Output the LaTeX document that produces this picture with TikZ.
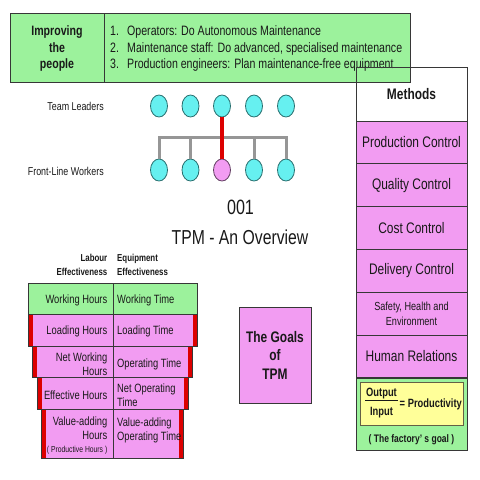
\documentclass[tikz,border=0pt]{standalone}
\usepackage{fontspec}
\setmainfont[FakeStretch=0.78]{Liberation Sans}
\usetikzlibrary{shapes.geometric}
\definecolor{tgreen}{RGB}{156,242,156}
\definecolor{tpink}{RGB}{242,156,242}
\definecolor{tcyan}{RGB}{102,240,240}
\definecolor{tyellow}{RGB}{255,255,153}
\definecolor{tred}{RGB}{220,0,0}
\definecolor{edge}{RGB}{55,55,55}
\definecolor{ink}{RGB}{25,25,25}
\definecolor{ringc}{RGB}{40,110,110}
\definecolor{barc}{RGB}{150,150,150}
\newcommand\fsz[2]{\fontsize{#1}{#2}\selectfont}
\begin{document}
\begin{tikzpicture}[x=1pt,y=-1pt,
  cell/.style={draw=edge, line width=0.9pt, anchor=north west, inner sep=0pt, outer sep=0pt},
  txt/.style={inner sep=0pt, text=ink},
  person/.style={ellipse, draw=ringc, line width=0.8pt, fill=tcyan, minimum width=17pt, minimum height=22pt, inner sep=0pt},
  barline/.style={draw=barc, line width=3pt},
  redline/.style={draw=tred, line width=3.2pt},
  methtxt/.style={txt, font=\fsz{15.3}{17}},
  funtxt/.style={txt, font=\fsz{12}{14}},
  redstrip/.style={fill=tred},
]
\useasboundingbox (0,0) rectangle (480,480);

% ---- Top box
\node[cell, fill=tgreen, minimum width=94pt, minimum height=69pt] (imp) at (10,13) {};
\node[cell, fill=tgreen, minimum width=306pt, minimum height=69pt] (list) at (104,13) {};
\node[txt, font=\bfseries\fsz{13.6}{16.5}, align=center] (impt) at (57,48.5) {Improving\\the\\people};
\node[txt, font=\fsz{13.6}{16.5}, align=left, anchor=west] (listt) at (110,48.5)
 {\makebox[17pt][l]{1.}Operators: Do Autonomous Maintenance\\
  \makebox[17pt][l]{2.}Maintenance staff: Do advanced, specialised maintenance\\
  \makebox[17pt][l]{3.}Production engineers: Plan maintenance-free equipment};

% ---- Methods column
\node[cell, minimum width=111pt, minimum height=54pt] (mh) at (356,67) {};
\node[txt, font=\bfseries\fsz{15.3}{17}] (mht) at (mh.center) {Methods};
\node[cell, fill=tpink, minimum width=111pt, minimum height=42.8pt] (m1) at (356,121) {};
\node[cell, fill=tpink, minimum width=111pt, minimum height=42.8pt] (m2) at (356,163.8) {};
\node[cell, fill=tpink, minimum width=111pt, minimum height=42.8pt] (m3) at (356,206.6) {};
\node[cell, fill=tpink, minimum width=111pt, minimum height=42.8pt] (m4) at (356,249.4) {};
\node[cell, fill=tpink, minimum width=111pt, minimum height=42.8pt] (m5) at (356,292.2) {};
\node[cell, fill=tpink, minimum width=111pt, minimum height=42.8pt] (m6) at (356,335) {};
\node[cell, fill=tgreen, minimum width=111pt, minimum height=72pt] (m7) at (356,378) {};
\node[methtxt] (m1t) at (m1.center) {Production Control};
\node[methtxt] (m2t) at (m2.center) {Quality Control};
\node[methtxt] (m3t) at (m3.center) {Cost Control};
\node[methtxt] (m4t) at (m4.center) {Delivery Control};
\node[txt, font=\fsz{11.7}{15.5}, align=center] (m5t) at (m5.center) {Safety, Health and\\Environment};
\node[methtxt] (m6t) at (m6.center) {Human Relations};
\node[cell, fill=tyellow, draw=black!70!yellow, minimum width=103pt, minimum height=43pt] (yb) at (360.5,382) {};
\node[txt, font=\bfseries\fsz{12}{13}, inner sep=0.5pt] (outp) at (381.5,394) {Output};
\node[txt, font=\bfseries\fsz{12}{13}] (inp) at (381.5,412.5) {Input};
\draw[ink, line width=0.9pt] (outp.south west) -- (outp.south east);
\node[txt, font=\bfseries\fsz{12}{13}, anchor=west] (prod) at (399.5,404) {= Productivity};
\node[txt, font=\bfseries\fsz{10.9}{12}] (goal) at (411.5,440) {( The factory’ s goal )};

% ---- Team
\node[txt, font=\fsz{11.4}{13}, anchor=east] (tlab) at (104,106) {Team Leaders};
\node[txt, font=\fsz{11.4}{13}, anchor=east] (flab) at (104,171) {Front-Line Workers};
\node[person] (t1) at (159,106) {};
\node[person] (t2) at (190.5,106) {};
\node[person] (t3) at (222,106) {};
\node[person] (t4) at (254,106) {};
\node[person] (t5) at (286,106) {};
\node[person] (w1) at (159,170) {};
\node[person] (w2) at (190.5,170) {};
\node[person, fill=tpink, draw=black!60!tpink] (w3) at (222,170) {};
\node[person] (w4) at (254,170) {};
\node[person] (w5) at (286,170) {};
\coordinate (bar) at (222,137);
\draw[barline] (w1.north) |- (bar) -| (w5.north);
\draw[barline] (w2.north) -- (w2.north |- bar);
\draw[barline] (w4.north) -- (w4.north |- bar);
\draw[redline] (t3.south) -- (w3.north);

% ---- Titles
\node[txt, font=\fsz{20.7}{24}] (num) at (240.5,207) {001};
\node[txt, font=\fsz{20.2}{24}] (title) at (240,237) {TPM - An Overview};

% ---- Funnel
\node[txt, font=\bfseries\fsz{10.1}{13.5}, align=right, anchor=east] (hl) at (107.5,265) {Labour\\Effectiveness};
\node[txt, font=\bfseries\fsz{10.1}{13.5}, align=left, anchor=west] (hr) at (117,265) {Equipment\\Effectiveness};
\node[cell, fill=tgreen, minimum width=169pt, minimum height=31pt] (r1) at (28,283) {};
\node[cell, fill=tpink, minimum width=169pt, minimum height=32pt] (r2) at (28,314) {};
\node[cell, fill=tpink, minimum width=160pt, minimum height=31pt] (r3) at (32.5,346) {};
\node[cell, fill=tpink, minimum width=151pt, minimum height=32pt] (r4) at (37,377) {};
\node[cell, fill=tpink, minimum width=142pt, minimum height=49pt] (r5) at (41.5,409) {};
\foreach \r in {r2,r3,r4,r5}{
  \fill[redstrip] (\r.north west) rectangle ([xshift=4.5pt]\r.south west);
  \fill[redstrip] ([xshift=-4.5pt]\r.north east) rectangle (\r.south east);
  \draw[edge, line width=0.9pt] (\r.north west) rectangle (\r.south east);
}
\draw[edge, line width=0.9pt] (113,283) -- (113,458);
\node[funtxt, anchor=east] (l1) at (107.5,300) {Working Hours};
\node[funtxt, anchor=west] (e1) at (117,300) {Working Time};
\node[funtxt, anchor=east] (l2) at (107.5,331) {Loading Hours};
\node[funtxt, anchor=west] (e2) at (117,331) {Loading Time};
\node[funtxt, anchor=east, align=right] (l3) at (107.5,364) {Net Working\\Hours};
\node[funtxt, anchor=west] (e3) at (117,364) {Operating Time};
\node[funtxt, anchor=east] (l4) at (107.5,395) {Effective Hours};
\node[funtxt, anchor=west, align=left] (e4) at (117,395) {Net Operating\\Time};
\node[funtxt, anchor=east, align=right] (l5) at (107.5,436) {Value-adding\\Hours\\[-1pt]{\fsz{8.7}{10}( Productive Hours )}};
\node[funtxt, anchor=west, align=left] (e5) at (117,430) {Value-adding\\Operating Time};

% ---- Goals
\node[cell, fill=tpink, minimum width=72pt, minimum height=96pt] (goals) at (239,307) {};
\node[txt, font=\bfseries\fsz{15.3}{18.5}, align=center] (goalst) at (goals.center) {The Goals\\of\\TPM};
\end{tikzpicture}
\end{document}
